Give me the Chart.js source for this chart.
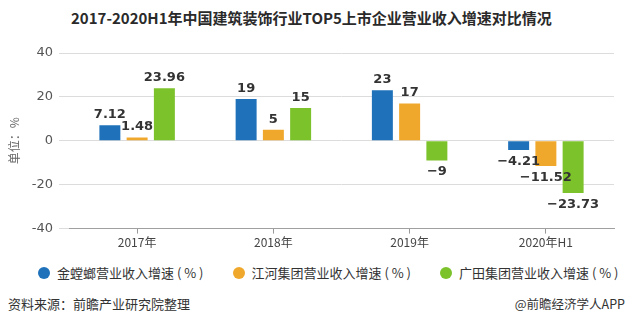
<!DOCTYPE html>
<html>
<head>
<meta charset="utf-8">
<script src="https://cdn.jsdelivr.net/npm/chart.js@4"></script>
<style>
  html, body { margin: 0; padding: 0; background: #fff; }
  body { width: 630px; height: 326px; position: relative; overflow: hidden;
         font-family: "Noto Sans CJK SC", "Noto Sans", sans-serif; }
  .title { position: absolute; left: 71px; top: 7px; font-size: 15px; font-weight: bold; color: #2a2a2a; white-space: nowrap; }
  .chart-box { position: absolute; left: 0; top: 38px; width: 630px; height: 214px; }
  .legend { position: absolute; top: 263px; left: 38px; display: flex; gap: 29px; font-size: 13px; color: #333; white-space: nowrap; }
  .legend span.dot { display: inline-block; width: 12px; height: 12px; border-radius: 50%; margin-right: 7px; vertical-align: -1px; }
  .source { position: absolute; left: 8px; top: 294px; font-size: 13px; color: #333; }
  .brand { position: absolute; right: 5px; top: 294px; font-size: 12.5px; color: #333; }
</style>
</head>
<body>
<div class="title">2017-2020H1年中国建筑装饰行业TOP5上市企业营业收入增速对比情况</div>
<div class="chart-box"><canvas id="chart"></canvas></div>
<div class="legend" id="legend"></div>
<div class="source">资料来源：前瞻产业研究院整理</div>
<div class="brand">@前瞻经济学人APP</div>
<script>
const categories = ["2017年", "2018年", "2019年", "2020年H1"];
const seriesNames = ["金螳螂营业收入增速 ( % )", "江河集团营业收入增速 ( % )", "广田集团营业收入增速 ( % )"];
const jintanglang = [7.12, 19, 23, -4.21];
const jianghe = [1.48, 5, 17, -11.52];
const guangtian = [23.96, 15, -9, -23.73];
const yTicks = [40, 20, 0, -20, -40];
const colors = ["#1f72ba", "#f0a82c", "#7cc22b"];

const legend = document.getElementById("legend");
seriesNames.forEach((name, i) => {
  const item = document.createElement("div");
  item.innerHTML = `<span class="dot" style="background:${colors[i]}"></span>${name}`;
  legend.appendChild(item);
});

function fmt(v) {
  return v < 0 ? "\u2212" + Math.abs(v) : String(v);
}

// 数值标签：正值在柱顶上方，负值在柱底下方
const valueLabels = {
  id: "valueLabels",
  afterDatasetsDraw(chart) {
    const ctx = chart.ctx;
    ctx.save();
    ctx.font = "bold 13px 'DejaVu Sans', sans-serif";
    ctx.fillStyle = "#333";
    ctx.textAlign = "center";
    chart.data.datasets.forEach((ds, i) => {
      chart.getDatasetMeta(i).data.forEach((bar, j) => {
        const v = ds.data[j];
        if (v >= 0) {
          ctx.textBaseline = "bottom";
          ctx.fillText(fmt(v), bar.x, bar.y - 4);
        } else {
          ctx.textBaseline = "top";
          ctx.fillText(fmt(v), bar.x, bar.y + 5);
        }
      });
    });
    ctx.restore();
  }
};

const ctx = document.getElementById("chart").getContext("2d");
new Chart(ctx, {
  type: "bar",
  data: {
    labels: categories,
    datasets: [
      { label: seriesNames[0], data: jintanglang, backgroundColor: colors[0] },
      { label: seriesNames[1], data: jianghe, backgroundColor: colors[1] },
      { label: seriesNames[2], data: guangtian, backgroundColor: colors[2] }
    ]
  },
  options: {
    responsive: true,
    maintainAspectRatio: false,
    animation: false,
    layout: { padding: { left: 7, right: 16, top: 15, bottom: 0 } },
    datasets: { bar: { categoryPercentage: 0.6, barPercentage: 0.77 } },
    plugins: {
      legend: { display: false },
      tooltip: { enabled: false }
    },
    scales: {
      x: {
        grid: { drawOnChartArea: false, drawTicks: true, offset: false, tickLength: 5, color: "#999" },
        border: { color: "#a0a0a0" },
        ticks: { color: "#444", padding: 2, font: { size: 12, family: "'Noto Sans CJK SC', sans-serif" } }
      },
      y: {
        min: -40,
        max: 40,
        afterBuildTicks: axis => { axis.ticks = yTicks.map(v => ({ value: v })); },
        afterFit: axis => { axis.width = 62; },
        grid: { color: "#dcdcdc", drawTicks: true, tickLength: 10 },
        border: { display: false },
        ticks: { color: "#555", padding: 6, font: { size: 13, family: "'DejaVu Sans', sans-serif" } },
        title: { display: true, text: "单位：%", color: "#666", padding: { top: 0, bottom: 0 }, font: { size: 12, family: "'Noto Sans CJK SC', sans-serif" } }
      }
    }
  },
  plugins: [valueLabels]
});
</script>
</body>
</html>
